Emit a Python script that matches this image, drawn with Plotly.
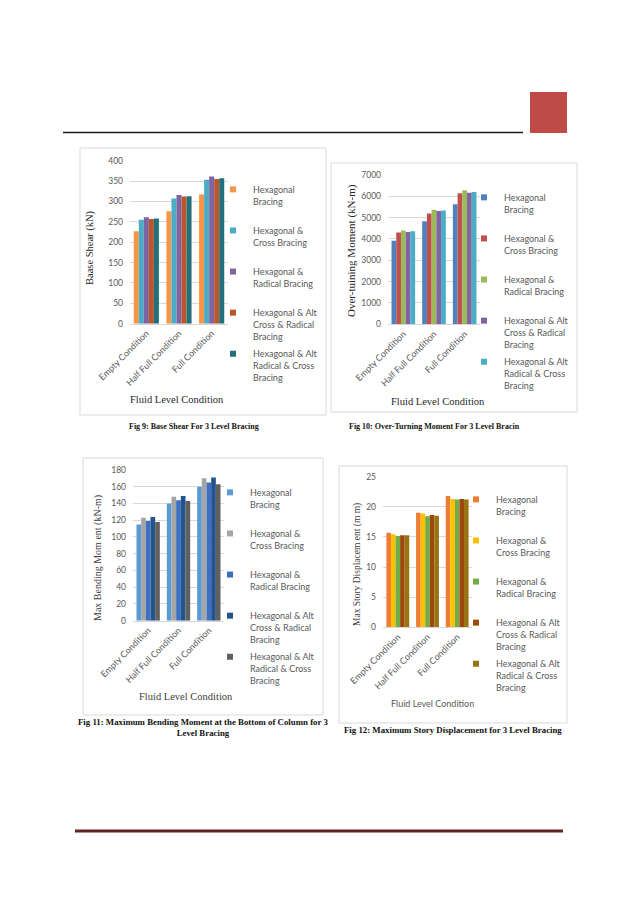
import plotly.graph_objects as go

W, H = 638, 902

def X(px):
    return px / W

def Y(py):
    return 1 - py / H

categories = ["Empty Condition", "Half Full Condition", "Full Condition"]
series_names = [
    "Hexagonal<br>Bracing<br> ",
    "Hexagonal &<br>Cross Bracing<br> ",
    "Hexagonal &<br>Radical Bracing<br> ",
    "Hexagonal & Alt<br>Cross & Radical<br>Bracing",
    "Hexagonal & Alt<br>Radical & Cross<br>Bracing",
]

# Fig 9: Base shear (kN)
base_shear = [
    [227, 276, 317],
    [255, 307, 353],
    [261, 316, 361],
    [257, 312, 355],
    [258, 313, 357],
]
# Fig 10: Over-turning moment (kN-m)
overturning = [
    [3920, 4830, 5630],
    [4300, 5200, 6140],
    [4400, 5370, 6280],
    [4330, 5310, 6170],
    [4360, 5340, 6200],
]
# Fig 11: Max bending moment (kN-m)
bending = [
    [115, 140, 160],
    [123, 148, 170],
    [119, 144, 165],
    [124, 149, 171],
    [118, 143, 163],
]
# Fig 12: Max story displacement (mm)
displacement = [
    [15.7, 19.0, 21.8],
    [15.45, 18.9, 21.3],
    [15.15, 18.45, 21.2],
    [15.3, 18.65, 21.3],
    [15.3, 18.5, 21.2],
]

colors1 = ["#F79646", "#4BACC6", "#8064A2", "#B9562A", "#23707C"]
colors2 = ["#4F81BD", "#C0504D", "#9BBB59", "#8064A2", "#4BACC6"]
colors3 = ["#5B9BD5", "#A5A5A5", "#3F6FC1", "#22538C", "#606060"]
colors4 = ["#ED7D31", "#FFC000", "#70AD47", "#9E480E", "#9A7410"]

charts = [
    dict(data=base_shear, colors=colors1, ax="", rng=[0, 400], dtick=50,
         xd=[X(130), X(228)], yd=[Y(323.7), Y(160.7)], legend="legend"),
    dict(data=overturning, colors=colors2, ax="2", rng=[0, 7000], dtick=1000,
         xd=[X(388), X(480)], yd=[Y(324.3), Y(175)], legend="legend2"),
    dict(data=bending, colors=colors3, ax="3", rng=[0, 180], dtick=20,
         xd=[X(133), X(224)], yd=[Y(620.7), Y(470)], legend="legend3"),
    dict(data=displacement, colors=colors4, ax="4", rng=[0, 25], dtick=5,
         xd=[X(383), X(472)], yd=[Y(627.3), Y(476.7)], legend="legend4"),
]

SANS = "Lato, 'Open Sans', sans-serif"
SERIF = "'Liberation Serif', 'Times New Roman', serif"
TICK = "#595959"
GRID = "#D9D9D9"

fig = go.Figure()
layout = {}
for ci, c in enumerate(charts):
    xa = "x" + c["ax"]
    ya = "y" + c["ax"]
    for si, vals in enumerate(c["data"]):
        fig.add_trace(go.Bar(
            x=categories, y=vals, xaxis=xa, yaxis=ya,
            marker=dict(color=c["colors"][si], line=dict(width=0)),
            showlegend=False, name=series_names[si].replace("<br>", " ").strip(),
        ))
    for si in range(5):
        fig.add_trace(go.Scatter(
            x=[None], y=[None], xaxis=xa, yaxis=ya, mode="markers",
            marker=dict(symbol="square", size=6, color=c["colors"][si]),
            name=series_names[si], legend=c["legend"],
            legendgroup="g%d_%d" % (ci, si), showlegend=True,
        ))
    layout["xaxis" + c["ax"]] = dict(
        domain=c["xd"], anchor=ya, type="category", tickangle=-45,
        tickfont=dict(family=SANS, size=9, color=TICK),
        showline=True, linecolor=GRID, linewidth=1, ticks="",
        showgrid=False, fixedrange=True, automargin=False,
    )
    layout["yaxis" + c["ax"]] = dict(
        domain=c["yd"], anchor=xa, range=c["rng"], dtick=c["dtick"],
        tickfont=dict(family=SANS, size=8.5, color=TICK),
        showgrid=True, gridcolor=GRID, gridwidth=1, zeroline=False,
        showline=False, ticks="", ticklabelstandoff=6, fixedrange=True,
        automargin=False,
    )

legend_pos = [(253, 177), (504, 185), (250, 480), (496, 487)]
for li, (tx, ty) in enumerate(legend_pos):
    key = "legend" if li == 0 else "legend%d" % (li + 1)
    layout[key] = dict(
        x=X(tx - 40), y=Y(ty), xanchor="left", yanchor="top",
        xref="paper", yref="paper",
        font=dict(family=SANS, size=9, color=TICK),
        bgcolor="rgba(0,0,0,0)", borderwidth=0, valign="top",
        tracegroupgap=3, itemclick=False, itemdoubleclick=False,
    )

annotations = []
def ann(text, x, y, size, family=SERIF, color="#262626", angle=0, bold=False):
    annotations.append(dict(
        text=("<b>%s</b>" % text) if bold else text,
        x=X(x), y=Y(y), xref="paper", yref="paper", showarrow=False,
        xanchor="center", yanchor="middle", textangle=angle,
        font=dict(family=family, size=size, color=color),
    ))

# axis titles
ann("Baase Shear (kN)", 90, 247, 10.5, angle=-90)
ann("Over-tuining Moment (kN-m)", 351, 251, 11, angle=-90)
ann("Max Bending Mom ent (kN-m)", 98, 558, 10, color="#404040", angle=-90)
ann("Max Story Displacem ent (m m)", 357, 565, 9.5, color="#404040", angle=-90)
ann("Fluid Level Condition", 177, 399, 10.5)
ann("Fluid Level Condition", 438, 401, 10.5)
ann("Fluid Level Condition", 186, 696, 10.5, color="#404040")
ann("Fluid Level Condition", 432, 703, 9, family=SANS, color=TICK)
# captions
ann("Fig 9: Base Shear For 3 Level Bracing", 194, 426, 8, color="#111111", bold=True)
ann("Fig 10: Over-Turning Moment For 3 Level Bracin", 434, 426, 8, color="#111111", bold=True)
ann("Fig 11: Maximum Bending Moment at the Bottom of Column for 3<br>Level Bracing",
    203, 727.5, 8.8, color="#111111", bold=True)
ann("Fig 12: Maximum Story Displacement for 3 Level Bracing", 453, 730, 8.8,
    color="#111111", bold=True)

shapes = []
def rect(x0, y0, x1, y1, line="#D9D9D9", fill="rgba(0,0,0,0)", lw=1):
    shapes.append(dict(type="rect", xref="paper", yref="paper",
                       x0=X(x0), x1=X(x1), y0=Y(y1), y1=Y(y0),
                       line=dict(color=line, width=lw), fillcolor=fill, layer="below"))

def hline(x0, x1, y, color, lw):
    shapes.append(dict(type="line", xref="paper", yref="paper",
                       x0=X(x0), x1=X(x1), y0=Y(y), y1=Y(y),
                       line=dict(color=color, width=lw)))

rect(80, 148, 326, 415)
rect(331, 163, 577, 412)
rect(83, 458, 323, 715)
rect(339, 466, 567, 723)
hline(63, 523, 132.5, "#1A1A1A", 1.5)
rect(530, 92, 567, 133, line="#BE4B48", fill="#BE4B48", lw=0)
hline(75, 563, 831, "#622423", 3)

fig.update_layout(
    width=W, height=H, margin=dict(l=0, r=0, t=0, b=0, autoexpand=False),
    paper_bgcolor="white", plot_bgcolor="white",
    barmode="group", bargap=0.23, bargroupgap=0.0,
    annotations=annotations, shapes=shapes,
    **layout,
)

fig.write_html("out.html", config={"displayModeBar": False},
               post_script="document.body.style.margin='0px';document.body.style.overflow='hidden';")
